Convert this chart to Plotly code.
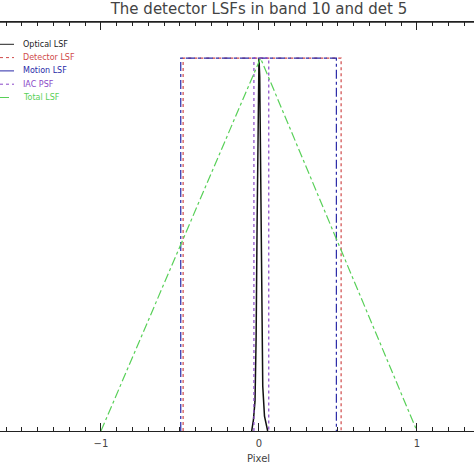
import plotly.graph_objects as go

# ---- data ----
series_names = ["Optical LSF", "Detector LSF", "Motion LSF", "IAC PSF", "Total LSF"]

optical_x = [-0.046, -0.035, -0.025, -0.018, -0.012, -0.006, 0.0, 0.005, 0.011, 0.017, 0.024, 0.035, 0.055]
optical_y = [0.0, 0.03, 0.08, 0.25, 0.55, 0.85, 1.0, 0.95, 0.7, 0.4, 0.12, 0.04, 0.0]

detector_x = [-0.48, -0.48, 0.52, 0.52]
detector_y = [0.0, 1.0, 1.0, 0.0]

motion_x = [-0.495, -0.495, 0.49, 0.49]
motion_y = [0.0, 1.0, 1.0, 0.0]

iac_x = [-0.032, -0.032, 0.062, 0.062]
iac_y = [0.0, 1.0, 1.0, 0.0]

total_x = [-1.0, 0.01, 1.0]
total_y = [0.0, 1.0, 0.0]

tick_vals = [-1, 0, 1]
tick_text = ["\u22121", "0", "1"]
x_title = "Pixel"

# ---- styles ----
colors = ["#111111", "#d04a4a", "#2a2aa8", "#8a48c8", "#58d058"]
dashes = ["solid", "dot", "dashdot", "dot", "dashdot"]
legend_dashes = ["solid", "dot", "solid", "dot", "dash"]

W, H = 474, 474
ML, MR, MT, MB = 0, 0, 22, 43
PH = H - MT - MB
XR = [-1.639, 1.361]
YR = [0, 1.097]

fig = go.Figure()
xs = [optical_x, detector_x, motion_x, iac_x, total_x]
ys = [optical_y, detector_y, motion_y, iac_y, total_y]
widths = [1.5, 1.2, 1.2, 1.2, 1.2]
for name, x, y, c, d, w in zip(series_names, xs, ys, colors, dashes, widths):
    fig.add_trace(go.Scatter(x=x, y=y, mode="lines", name=name,
                             line=dict(color=c, dash=d, width=w),
                             showlegend=False))

# trace on a top x axis so it gets drawn
fig.add_trace(go.Scatter(x=XR, y=[0, 0], xaxis="x2", yaxis="y", mode="lines",
                         line=dict(width=0), showlegend=False, hoverinfo="skip"))

# custom legend (annotations + sample lines)
row_y_px = [44.3, 57.6, 70.9, 84.2, 97.5]
for name, c, d, py in zip(series_names, colors, legend_dashes, row_y_px):
    yp = (H - MB - py) / PH
    col = c if name != "Optical LSF" else "#222"
    fig.add_shape(type="line", xref="paper", yref="paper",
                  x0=0, x1=14 / W, y0=yp, y1=yp,
                  line=dict(color=col, width=1, dash=d))
    fig.add_annotation(xref="paper", yref="paper", x=21 / W, y=yp,
                       text=name, showarrow=False, xanchor="left", yanchor="middle",
                       font=dict(family="DejaVu Sans", size=8, color=col))

# frame top edge
fig.add_shape(type="line", xref="paper", yref="paper", x0=0, x1=1, y0=1, y1=1,
              line=dict(color="#222", width=1.5))

# x-axis title centred on x = 0
fig.add_annotation(xref="x", yref="paper", x=0, y=-(458 - (H - MB)) / PH,
                   text=x_title, showarrow=False, xanchor="center", yanchor="middle",
                   font=dict(family="DejaVu Sans", size=10, color="#444"))

axis_common = dict(range=XR, ticks="inside", ticklen=8, tickcolor="#222", tickwidth=1.2,
                   showline=True, linecolor="#222", linewidth=1.2,
                   showgrid=False, zeroline=False,
                   minor=dict(dtick=0.1, tick0=0, ticks="inside", ticklen=4,
                              tickcolor="#222", tickwidth=1.2, showgrid=False))

fig.update_layout(
    width=W, height=H,
    margin=dict(l=ML, r=MR, t=MT, b=MB),
    paper_bgcolor="white", plot_bgcolor="white",
    title=dict(text="The detector LSFs in band 10 and det 5",
               x=259 / W, xanchor="center", y=1 - 9 / H, yanchor="middle",
               font=dict(family="DejaVu Sans", size=15, color="#444")),
    xaxis=dict(**axis_common, tickvals=tick_vals, ticktext=tick_text, mirror=True,
               ticklabelstandoff=3,
               tickfont=dict(family="DejaVu Sans", size=10, color="#444")),
    xaxis2=dict(**axis_common, tickvals=tick_vals, showticklabels=False,
                side="top", anchor="y", overlaying="x"),
    yaxis=dict(range=YR, showticklabels=False, ticks="", showline=False,
               showgrid=False, zeroline=False),
)

fig.write_html("out.html")
